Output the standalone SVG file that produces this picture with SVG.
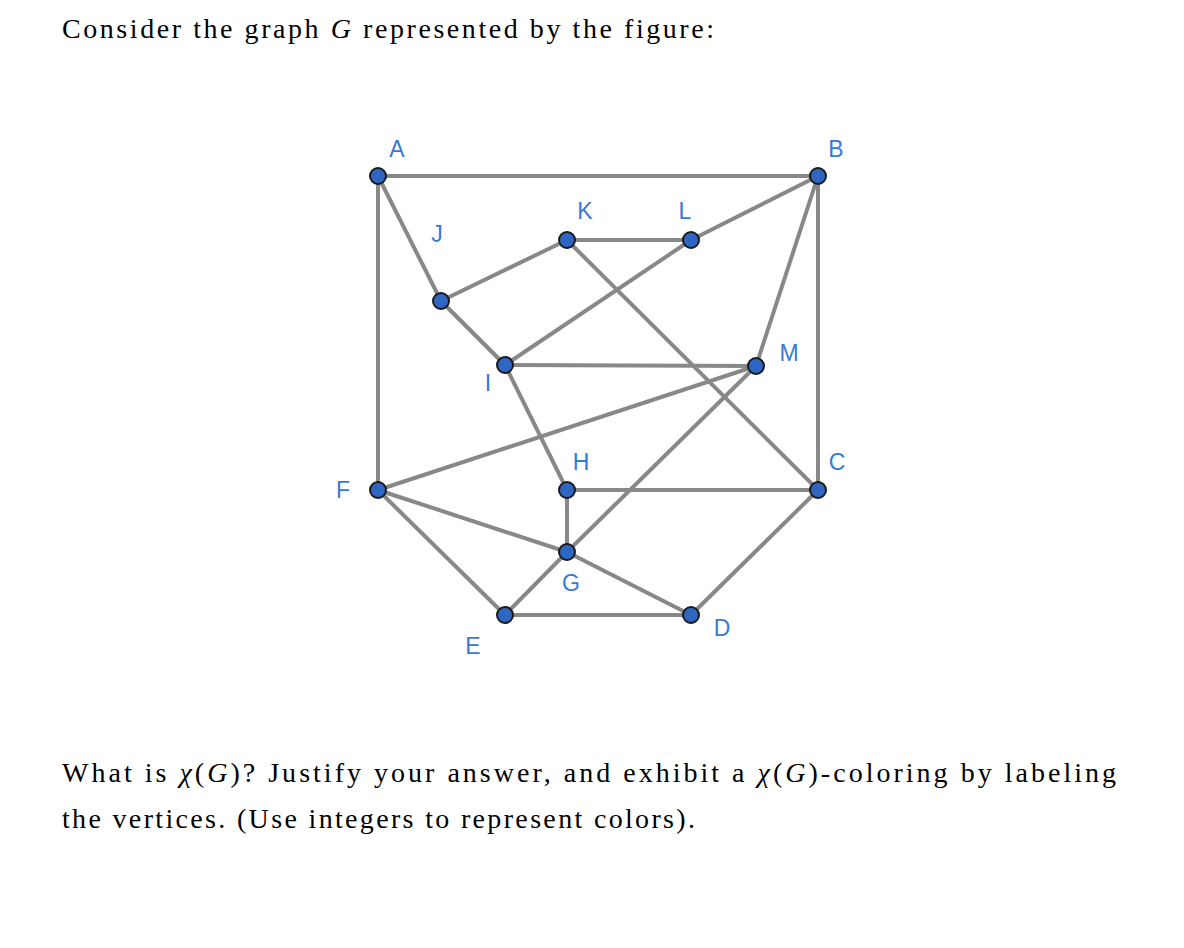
<svg xmlns="http://www.w3.org/2000/svg" width="1184" height="948" viewBox="0 0 1184 948">
<style>
.t{font-family:"Liberation Serif",serif;font-size:28px;fill:#000}
.e line{stroke:#888;stroke-width:4}
.n circle{fill:#2f66c4;stroke:#1a1a1a;stroke-width:2}
.l{font-family:"Liberation Sans",sans-serif;font-size:23px;fill:#3a78d4;text-anchor:middle}
</style>
<rect width="1184" height="948" fill="#fff"/>
<text class="t" x="62" y="38" textLength="652" lengthAdjust="spacing">Consider the graph <tspan font-style="italic">G</tspan> represented by the figure:</text>
<g class="e">
<line x1="378" y1="176" x2="818" y2="176"/><line x1="378" y1="176" x2="378" y2="490"/><line x1="378" y1="176" x2="441" y2="301"/>
<line x1="818" y1="176" x2="691" y2="240"/><line x1="818" y1="176" x2="756" y2="366"/><line x1="818" y1="176" x2="818" y2="490"/>
<line x1="567" y1="240" x2="691" y2="240"/><line x1="441" y1="301" x2="567" y2="240"/><line x1="441" y1="301" x2="505" y2="365"/>
<line x1="505" y1="365" x2="691" y2="240"/><line x1="505" y1="365" x2="756" y2="366"/><line x1="505" y1="365" x2="567" y2="490"/>
<line x1="567" y1="240" x2="818" y2="490"/><line x1="756" y1="366" x2="378" y2="490"/><line x1="756" y1="366" x2="567" y2="552"/>
<line x1="567" y1="490" x2="818" y2="490"/><line x1="567" y1="490" x2="567" y2="552"/><line x1="378" y1="490" x2="567" y2="552"/>
<line x1="378" y1="490" x2="505" y2="615"/><line x1="567" y1="552" x2="505" y2="615"/><line x1="567" y1="552" x2="691" y2="615"/>
<line x1="505" y1="615" x2="691" y2="615"/><line x1="691" y1="615" x2="818" y2="490"/>
</g>
<g id="A" class="n"><circle cx="378" cy="176" r="8"/><text class="l" x="397" y="157">A</text></g>
<g id="B" class="n"><circle cx="818" cy="176" r="8"/><text class="l" x="836" y="157">B</text></g>
<g id="K" class="n"><circle cx="567" cy="240" r="8"/><text class="l" x="585" y="219">K</text></g>
<g id="L" class="n"><circle cx="691" cy="240" r="8"/><text class="l" x="685" y="219">L</text></g>
<g id="J" class="n"><circle cx="441" cy="301" r="8"/><text class="l" x="437" y="242">J</text></g>
<g id="I" class="n"><circle cx="505" cy="365" r="8"/><text class="l" x="488" y="391">I</text></g>
<g id="M" class="n"><circle cx="756" cy="366" r="8"/><text class="l" x="789" y="361">M</text></g>
<g id="H" class="n"><circle cx="567" cy="490" r="8"/><text class="l" x="581" y="470">H</text></g>
<g id="C" class="n"><circle cx="818" cy="490" r="8"/><text class="l" x="837" y="470">C</text></g>
<g id="F" class="n"><circle cx="378" cy="490" r="8"/><text class="l" x="343" y="498">F</text></g>
<g id="G" class="n"><circle cx="567" cy="552" r="8"/><text class="l" x="571" y="591">G</text></g>
<g id="E" class="n"><circle cx="505" cy="615" r="8"/><text class="l" x="473" y="654">E</text></g>
<g id="D" class="n"><circle cx="691" cy="615" r="8"/><text class="l" x="722" y="636">D</text></g>
<text class="t" x="62" y="782" textLength="1054" lengthAdjust="spacing">What is <tspan font-style="italic">χ</tspan>(<tspan font-style="italic">G</tspan>)? Justify your answer, and exhibit a <tspan font-style="italic">χ</tspan>(<tspan font-style="italic">G</tspan>)-coloring by labeling</text>
<text class="t" x="62" y="828" textLength="633" lengthAdjust="spacing">the vertices. (Use integers to represent colors).</text>
</svg>
